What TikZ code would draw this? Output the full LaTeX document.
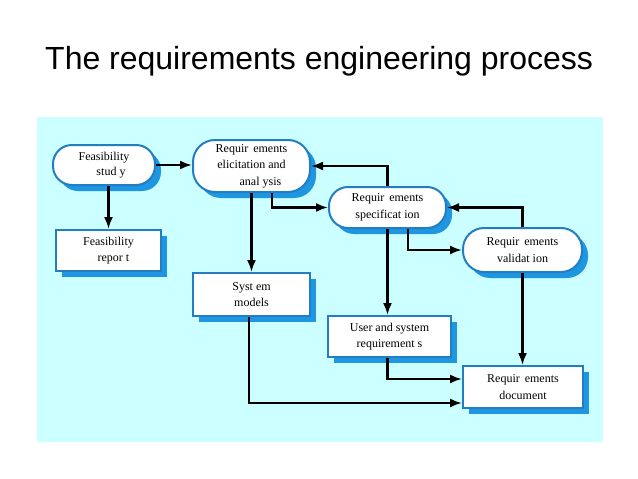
\documentclass[tikz,border=0pt]{standalone}
\usepackage{fontspec}
\setmainfont{Liberation Serif}
\newfontfamily\titlefont{Liberation Sans}
\usetikzlibrary{shadows,arrows.meta,calc}
\definecolor{bgcyan}{RGB}{204,255,255}
\definecolor{boxborder}{RGB}{35,125,195}
\definecolor{shadowblue}{RGB}{30,150,225}
\tikzset{
  base/.style={draw=boxborder, line width=2pt, fill=white, align=center,
    font=\fontsize{12}{16.5}\selectfont, inner sep=0pt,
    drop shadow={shadow xshift=6pt, shadow yshift=-6pt, fill=shadowblue, opacity=1}},
  stadium/.style={base, rounded corners=19pt},
  docbox/.style={base},
  arr/.style={draw=black, line width=2.1pt, -{Latex[length=12pt,width=9pt]}}
}
\begin{document}
\begin{tikzpicture}[x={(1pt,0)}, y={(0,-1pt)}]
\useasboundingbox (0,0) rectangle (638,479);
\fill[white] (0,0) rectangle (638,479);
\fill[bgcyan] (37,117) rectangle (603,442);
\node[anchor=base west, font=\titlefont\fontsize{32}{36}\selectfont, inner sep=0pt] (title) at (45,69) {The requirements engineering process};

\node[stadium, minimum width=102pt, minimum height=40pt] (fs) at (104,165) {Feasibility\\[-1pt]\hspace*{14pt}stud y};
\node[stadium, rounded corners=22pt, minimum width=117pt, minimum height=52pt] (rea) at (251.5,166) {Requir\hspace{5pt}ements\\elicitation and\\\hspace*{18pt}anal ysis};
\node[stadium, minimum width=117pt, minimum height=41pt] (rs) at (387.5,207.5) {Requir\hspace{5pt}ements\\specificat ion};
\node[stadium, rounded corners=21pt, minimum width=119pt, minimum height=44pt] (rv) at (522.5,250) {Requir\hspace{5pt}ements\\validat ion};
\node[docbox, minimum width=105pt, minimum height=41pt] (fr) at (108.5,250.5) {Feasibility\\\hspace*{10pt}repor t};
\node[docbox, minimum width=117pt, minimum height=43pt] (sm) at (251.5,294.5) {Syst em\\models};
\node[docbox, minimum width=123pt, minimum height=41pt] (us) at (389.5,336.5) {User and system\\requirement s};
\node[docbox, minimum width=120pt, minimum height=42pt] (rd) at (523,387) {Requir\hspace{5pt}ements\\document};

\draw[arr] (fs.east) -- (fs.east -| rea.west);
\draw[arr] (fs.south -| fr.north) -- (fr.north);
\draw[arr] (rs.north) |- (rea.east);
\draw[arr] ($(rea.south)+(20.5,0)$) |- (rs.west);
\draw[arr] (rea.south) -- (sm.north);
\draw[arr] (rv.north) |- (rs.east);
\draw[arr] ($(rs.south)+(20.5,0)$) |- (rv.west);
\draw[arr] (rs.south) -- (rs.south |- us.north);
\draw[arr] (rv.south) -- (rv.south |- rd.north);
\draw[arr] ($(us.south)+(-2,0)$) |- ($(rd.west)+(0,-8)$);
\draw[arr] ($(sm.south)+(-2.5,0)$) |- ($(rd.west)+(0,16)$);
\end{tikzpicture}
\end{document}
